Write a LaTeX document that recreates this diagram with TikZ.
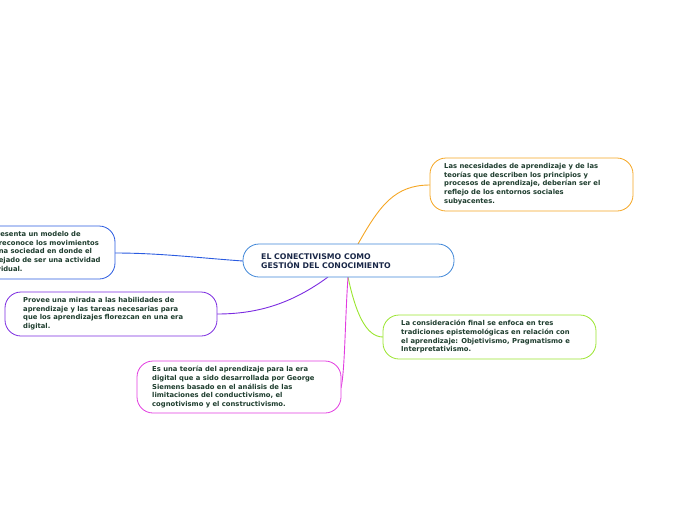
\documentclass[tikz,border=0pt]{standalone}
\usepackage{fontspec}
\setmainfont{DejaVu Sans}
\definecolor{txt}{HTML}{1E3D2E}
\definecolor{ttl}{HTML}{1A2848}
\definecolor{cblue}{HTML}{3F86D8}
\definecolor{corange}{HTML}{F5A623}
\definecolor{cgreen}{HTML}{9BE530}
\definecolor{cmag}{HTML}{E23CE0}
\definecolor{cpurp}{HTML}{7B2BE0}
\definecolor{clblue}{HTML}{2A5BE0}
\begin{document}
\begin{tikzpicture}[x=1pt,y=-1pt,
  box/.style={draw=#1,line width=0.8pt,rounded corners=16pt,fill=white},
  lbl/.style={anchor=north west,align=left,inner sep=0pt,font=\fontsize{6.8}{8.7}\selectfont\bfseries,text=txt},
  con/.style={line width=0.9pt}]
\useasboundingbox (0,0) rectangle (696,520);
\clip (0,0) rectangle (696,520);
% connectors
\coordinate (cT) at (358,244);
\coordinate (cB) at (348,277);
\coordinate (cBL) at (328,277);
\coordinate (cL) at (243,261);
\coordinate (oL) at (430,185);
\coordinate (gL) at (383,337);
\coordinate (mR) at (341,388);
\coordinate (pR) at (217,314);
\coordinate (bR) at (115,253);
\draw[con,corange] (cT) .. controls (380,205) and (395,185) .. (oL);
\draw[con,cgreen] (cB) .. controls (355,310) and (365,337) .. (gL);
\draw[con,cmag] (cB) .. controls (345,320) and (345,370) .. (mR);
\draw[con,cpurp] (cBL) .. controls (290,305) and (255,314) .. (pR);
\draw[con,clblue] (cL) .. controls (200,258) and (160,253) .. (bR);
% boxes
\draw[box=cblue] (243,244) rectangle (454,277);
\node[anchor=west,inner sep=0pt,align=left,font=\fontsize{7.8}{9.5}\selectfont\bfseries,text=ttl] (center) at (261,261) {EL CONECTIVISMO COMO\\GESTIÓN DEL CONOCIMIENTO};
\draw[box=corange] (430,158) rectangle (633,211);
\node[lbl] (o) at (444,163) {Las necesidades de aprendizaje y de las\\teorías que describen los principios y\\procesos de aprendizaje, deberían ser el\\reflejo de los entornos sociales\\subyacentes.};
\draw[box=cgreen] (383,315) rectangle (596,359);
\node[lbl] (g) at (401,320) {La consideración final se enfoca en tres\\tradiciones epistemológicas en relación con\\el aprendizaje: Objetivismo, Pragmatismo e\\Interpretativismo.};
\draw[box=cmag] (137,361) rectangle (341,413);
\node[lbl] (m) at (152,366) {Es una teoría del aprendizaje para la era\\digital que a sido desarrollada por George\\Siemens basado en el análisis de las\\limitaciones del conductivismo, el\\cognotivismo y el constructivismo.};
\draw[box=cpurp] (5,292) rectangle (217,336);
\node[lbl] (p) at (23,297) {Provee una mirada a las habilidades de\\aprendizaje y las tareas necesarias para\\que los aprendizajes florezcan en una era\\digital.};
\draw[box=clblue] (-95,226) rectangle (115,279);
\node[lbl] (b) at (-18,231) {Representa un modelo de\\que reconoce los movimientos\\de una sociedad en donde el\\ha dejado de ser una actividad\\individual.};
\end{tikzpicture}
\end{document}
